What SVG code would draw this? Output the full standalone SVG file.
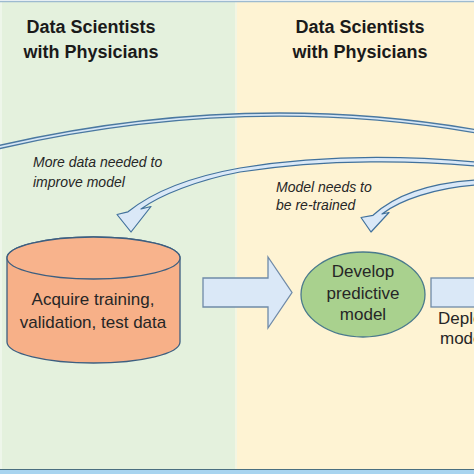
<svg xmlns="http://www.w3.org/2000/svg" width="474" height="474" viewBox="0 0 474 474">
<style>
.title{font-family:"Liberation Sans",Arial,sans-serif;font-weight:bold;font-size:18px;fill:#1a1a1a;text-anchor:middle}
.note{font-family:"Liberation Sans",Arial,sans-serif;font-style:italic;font-size:14px;fill:#262626}
.node{font-family:"Liberation Sans",Arial,sans-serif;font-size:17px;fill:#262626;text-anchor:middle}
.blk{fill:#dae8f7;stroke:#6f8aa8;stroke-width:1.3}
.curve{fill:#dae8f7;stroke:#41719c;stroke-width:1.2;stroke-linejoin:round}
</style>
<g id="background">
<rect x="0" y="0" width="474" height="474" fill="#ffffff"/>
<rect x="0" y="2" width="236" height="468" fill="#e4f1dd"/>
<rect x="236" y="2" width="238" height="468" fill="#fef3d3"/>
<rect x="0" y="2" width="2" height="468" fill="#eef6ea"/>
<rect x="235" y="2" width="2" height="468" fill="#f3f5e2"/>
<line x1="0" y1="1.5" x2="474" y2="1.5" stroke="#9dbad0" stroke-width="1.5"/>
<rect x="0" y="470" width="474" height="4" fill="#a8d4ef"/>
<line x1="0" y1="469.5" x2="474" y2="469.5" stroke="#4a6f80" stroke-width="1"/>
</g>
<g id="title-left">
<text class="title" x="91" y="33">Data Scientists</text>
<text class="title" x="91" y="58">with Physicians</text>
</g>
<g id="title-right">
<text class="title" x="360" y="33">Data Scientists</text>
<text class="title" x="360" y="58">with Physicians</text>
</g>
<g id="connectors">
<path d="M -5,148 Q 243,90.5 480,132" fill="none" stroke="#4a78a0" stroke-width="4.5"/>
<path d="M -5,148 Q 243,90.5 480,132" fill="none" stroke="#d6e6f5" stroke-width="1.8"/>
<path class="curve" d="M 476,162 C 420,157 330,153 240,168 C 195,176 155,190 128,211.8 L 117,214.5 L 131,232 L 151,206.5 L 141,209 C 160,195 198,180 240,172 C 330,158 420,161 476,166 Z"/>
<path class="curve" d="M 476,180 C 430,183 395,195 373,215.3 L 361,217.5 L 371,232 L 389,212.5 L 382,214 C 400,200 435,188 476,185 Z"/>
<polygon class="blk" points="203,278 268,278 268,257 292,292.5 268,328 268,307 203,307"/>
<rect class="blk" x="431" y="278" width="60" height="29"/>
</g>
<g id="label-more-data">
<text class="note" x="33" y="167">More data needed to</text>
<text class="note" x="33" y="187">improve model</text>
</g>
<g id="label-retrain">
<text class="note" x="276" y="192">Model needs to</text>
<text class="note" x="276" y="210">be re-trained</text>
</g>
<g id="node-acquire">
<path d="M 7,258 L 7,342 A 86.5,21 0 0 0 180,342 L 180,258 A 86.5,21 0 0 0 7,258 Z" fill="#f7b088" stroke="#3d5f80" stroke-width="1.3"/>
<ellipse cx="93.5" cy="258" rx="86.5" ry="21" fill="#f8b38c" stroke="#3d5f80" stroke-width="1.3"/>
<text class="node" x="93" y="305">Acquire training,</text>
<text class="node" x="93" y="328">validation, test data</text>
</g>
<g id="node-develop">
<ellipse cx="363" cy="294.5" rx="62" ry="42.5" fill="#a9d18e" stroke="#4a7a8c" stroke-width="1.3"/>
<text class="node" x="363" y="277">Develop</text>
<text class="node" x="363" y="299">predictive</text>
<text class="node" x="363" y="320">model</text>
</g>
<g id="node-deploy">
<text class="node" x="438" y="324" style="text-anchor:start">Deploy</text>
<text class="node" x="440" y="344" style="text-anchor:start">model</text>
</g>
</svg>
